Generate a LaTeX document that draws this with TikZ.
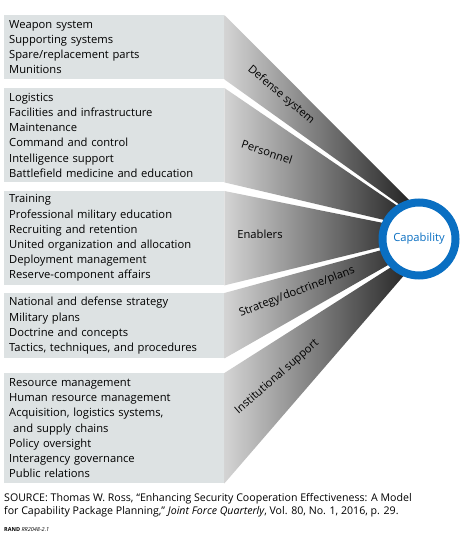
\documentclass[tikz,border=0pt]{standalone}
\usepackage{fontspec}
\setmainfont{Open Sans}
\definecolor{BoxGray}{HTML}{DDE2E3}
\definecolor{CapBlue}{HTML}{0A6FC2}
\definecolor{WedgeLight}{HTML}{D4D4D4}
\definecolor{WedgeDark}{HTML}{1C1C1C}

\begin{document}
\begin{tikzpicture}[x=1pt,y=-1pt,font=\fontsize{11.2}{15.2}\selectfont,
    catbox/.style={fill=BoxGray,minimum width=220pt,text width=210pt,inner xsep=5pt,inner ysep=0pt,align=left,anchor=north west},
    wedge/.style={left color=WedgeLight,right color=WedgeDark},
    wedgetext/.style={inner sep=0pt}]
      \useasboundingbox (0,0) rectangle (474,534);
      % category boxes
      \node[catbox,minimum height=64pt] (defbox) at (4,15) {Weapon system\\Supporting systems\\Spare/replacement parts\\Munitions};
      \node[catbox,minimum height=94pt] (persbox) at (4,88) {Logistics\\Facilities and infrastructure\\Maintenance\\Command and control\\Intelligence support\\Battlefield medicine and education};
      \node[catbox,minimum height=94pt] (enabbox) at (4,191) {Training\\Professional military education\\Recruiting and retention\\United organization and allocation\\Deployment management\\Reserve-component affairs};
      \node[catbox,minimum height=65pt] (stratbox) at (4,293) {National and defense strategy\\Military plans\\Doctrine and concepts\\Tactics, techniques, and procedures};
      \node[catbox,minimum height=110pt] (instbox) at (4,373) {Resource management\\Human resource management\\Acquisition, logistics systems,\\\hspace*{4pt}and supply chains\\Policy oversight\\Interagency governance\\Public relations};
      % wedges towards the circle
      \shade[wedge] (defbox.north east) -- (defbox.south east) -- (419,218.6) -- (419,210) -- cycle;
      \shade[wedge] (persbox.north east) -- (persbox.south east) -- (419,228.2) -- (419,220.6) -- cycle;
      \shade[wedge] (enabbox.north east) -- (enabbox.south east) -- (419,237.8) -- (419,230.2) -- cycle;
      \shade[wedge] (stratbox.north east) -- (stratbox.south east) -- (419,247.4) -- (419,239.8) -- cycle;
      \shade[wedge] (instbox.north east) -- (instbox.south east) -- (419,258) -- (419,249.4) -- cycle;
      \node[wedgetext,rotate=-40] (deflabel) at (281,95) {Defense system};
      \node[wedgetext,rotate=-18] (perslabel) at (267,152) {Personnel};
      \node[wedgetext] (enablabel) at (260,234) {Enablers};
      \node[wedgetext,rotate=21] (stratlabel) at (297,292) {Strategy/doctrine/plans};
      \node[wedgetext,rotate=41] (instlabel) at (277,377) {Institutional support};
      \node[circle,draw=CapBlue,line width=8pt,fill=white,minimum size=73pt,inner sep=0pt,text=CapBlue] (cap) at (419,239) {Capability};
      % source note
      \node[anchor=north west,inner sep=0pt,align=left,font=\fontsize{10.6}{13.5}\selectfont] (source) at (4,493) {SOURCE: Thomas W. Ross, “Enhancing Security Cooperation Effectiveness: A Model\\for Capability Package Planning,” \textit{Joint Force Quarterly}, Vol. 80, No. 1, 2016, p. 29.};
      \node[anchor=base west,inner sep=0pt,font=\fontsize{5.5}{6}\selectfont] (rand) at (4,531) {\textbf{RAND} \textit{RR2048-2.1}};
    \end{tikzpicture}
\end{document}
